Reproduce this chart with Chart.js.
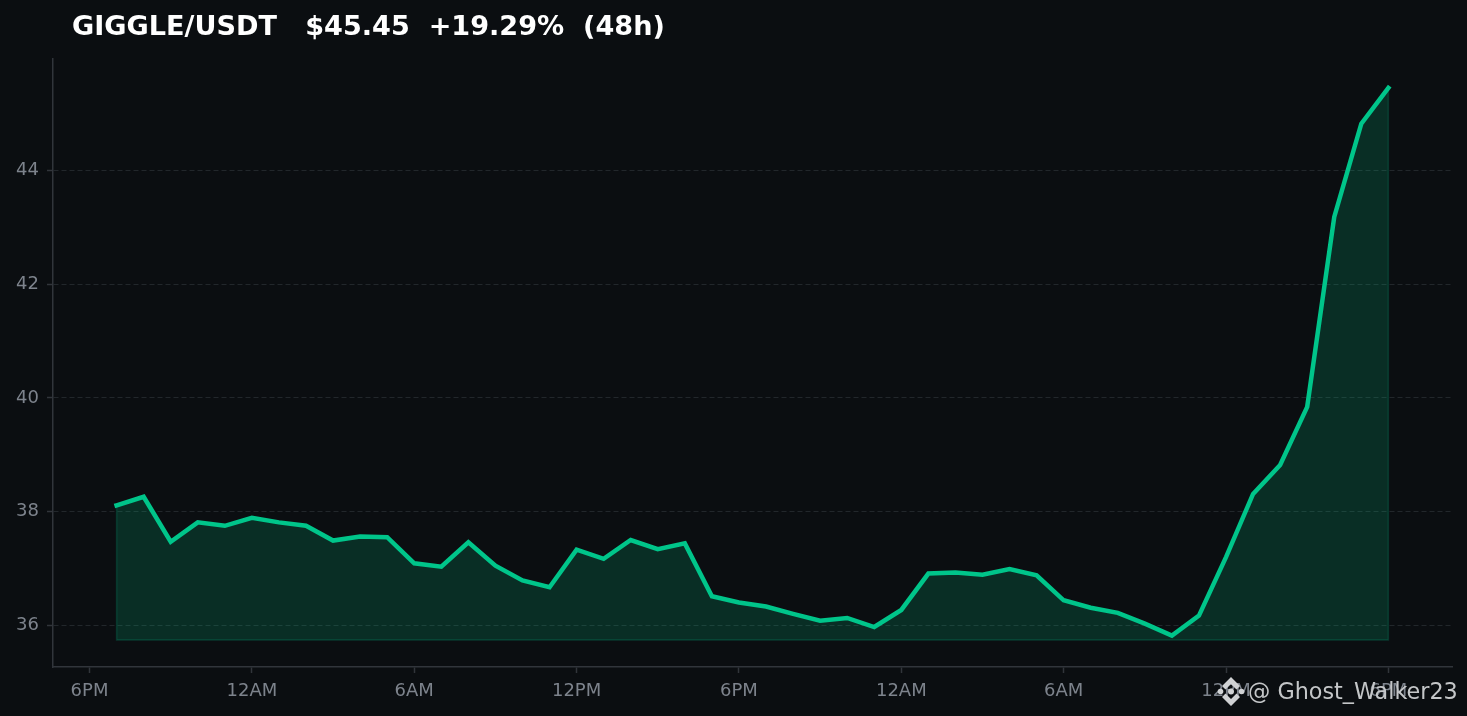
<!DOCTYPE html>
<html lang="en">
<head>
    <meta charset="UTF-8">
    <title>GIGGLE/USDT</title>
    <script src="https://cdn.jsdelivr.net/npm/chart.js"></script>
    <style>
        html, body { margin: 0; padding: 0; background: #0b0e11; overflow: hidden; }
        body { width: 1467px; height: 716px; position: relative; font-family: "DejaVu Sans", sans-serif; }
        canvas { position: absolute; left: 0; top: 0; }
        #title { position: absolute; left: 72px; top: 10px; color: #ffffff; font-size: 27.1px; font-weight: bold; line-height: 32px; white-space: pre; }
        #mark { position: absolute; left: 1216px; top: 674px; height: 34px; display: flex; align-items: center; color: #c4c6c8; font-size: 22.3px; white-space: pre; }
        #mark svg { margin-right: 2px; }
    </style>
</head>
<body>
    <canvas id="priceChart" width="1467" height="716"></canvas>
    <div id="title">GIGGLE/USDT   $45.45  +19.29%  (48h)</div>
    <div id="mark">
        <svg width="30" height="30" viewBox="0 0 30 30" fill="#d0d2d4">
            <path d="M15 1l9 9-3.500 3.500L15 8l-5.500 5.500L6 10z"/>
            <path d="M15 30l-9-9 3.500-3.500L15 23l5.500-5.500L24 21z"/>
            <circle cx="4.500" cy="15.500" r="2.800"/>
            <circle cx="15" cy="15.500" r="3"/>
            <circle cx="25.500" cy="15.500" r="2.800"/>
        </svg><span>@ Ghost_Walker23</span>
    </div>

    <script>
        // hours since the first 6PM tick
        const hours = [1, 2, 3, 4, 5, 6, 7, 8, 9, 10, 11, 12, 13, 14, 15, 16, 17, 18, 19, 20, 21, 22, 23, 24,
            25, 26, 27, 28, 29, 30, 31, 32, 33, 34, 35, 36, 37, 38, 39, 40, 41, 42, 43, 44, 45, 46, 47, 48];
        const prices = [38.11, 38.26, 37.47, 37.81, 37.75, 37.89, 37.81, 37.75, 37.49, 37.56, 37.55, 37.09,
            37.03, 37.46, 37.05, 36.79, 36.67, 37.33, 37.17, 37.50, 37.34, 37.44, 36.51, 36.40,
            36.33, 36.20, 36.08, 36.13, 35.97, 36.27, 36.91, 36.93, 36.89, 36.99, 36.88, 36.44,
            36.31, 36.22, 36.03, 35.82, 36.17, 37.20, 38.31, 38.82, 39.84, 43.18, 44.82, 45.45];
        const baseline = 35.74;
        const xTicks = [0, 6, 12, 18, 24, 30, 36, 42, 48];
        const xTickLabels = ['6PM', '12AM', '6AM', '12PM', '6PM', '12AM', '6AM', '12PM', '6PM'];
        const yTicks = [36, 38, 40, 42, 44];

        // outline of the shaded area
        const edgeHours = [1, 1, 48, 48];
        const edgePrices = [38.11, baseline, baseline, 45.45];

        const tickFont = { family: '"DejaVu Sans"', size: 18 };
        const tickColor = '#7d838c';
        const axisColor = '#31353b';

        new Chart(document.getElementById('priceChart'), {
            type: 'line',
            data: {
                datasets: [
                    {
                        data: hours.map((h, i) => ({ x: h, y: prices[i] })),
                        borderColor: '#00c58a',
                        borderWidth: 4.5,
                        borderJoinStyle: 'miter',
                        borderCapStyle: 'square',
                        backgroundColor: 'rgba(0, 192, 135, 0.18)',
                        fill: { value: baseline },
                        pointRadius: 0,
                        tension: 0,
                        order: 1
                    },
                    {
                        data: edgeHours.map((h, i) => ({ x: h, y: edgePrices[i] })),
                        borderColor: 'rgba(0, 192, 135, 0.22)',
                        borderWidth: 1.5,
                        fill: false,
                        pointRadius: 0,
                        tension: 0,
                        order: 2
                    }
                ]
            },
            options: {
                responsive: false,
                animation: false,
                devicePixelRatio: 1,
                layout: { padding: { top: 59, right: 14.5, left: 0, bottom: 0 } },
                plugins: { legend: { display: false }, tooltip: { enabled: false }, title: { display: false } },
                scales: {
                    x: {
                        type: 'linear',
                        min: -1.35,
                        max: 50.37,
                        afterFit: (scale) => { scale.height = 49; },
                        afterBuildTicks: (scale) => { scale.ticks = xTicks.map((v) => ({ value: v })); },
                        grid: { drawOnChartArea: false, drawTicks: true, tickLength: 6, tickColor: axisColor, tickWidth: 1.5 },
                        border: { color: axisColor, width: 1.5 },
                        ticks: {
                            font: tickFont,
                            color: tickColor,
                            padding: 8,
                            maxRotation: 0,
                            autoSkip: false,
                            callback: (v) => xTickLabels[xTicks.indexOf(v)]
                        }
                    },
                    y: {
                        type: 'linear',
                        min: 35.267,
                        max: 45.958,
                        afterFit: (scale) => { scale.width = 53; },
                        afterBuildTicks: (scale) => { scale.ticks = yTicks.map((v) => ({ value: v })); },
                        grid: { color: 'rgba(90, 98, 106, 0.3)', lineWidth: 1, tickLength: 6, tickColor: axisColor, tickWidth: 1.5 },
                        border: { color: axisColor, width: 1.5, dash: [5, 3] },
                        ticks: { font: tickFont, color: tickColor, padding: 8 }
                    }
                }
            }
        });
    </script>
</body>
</html>
